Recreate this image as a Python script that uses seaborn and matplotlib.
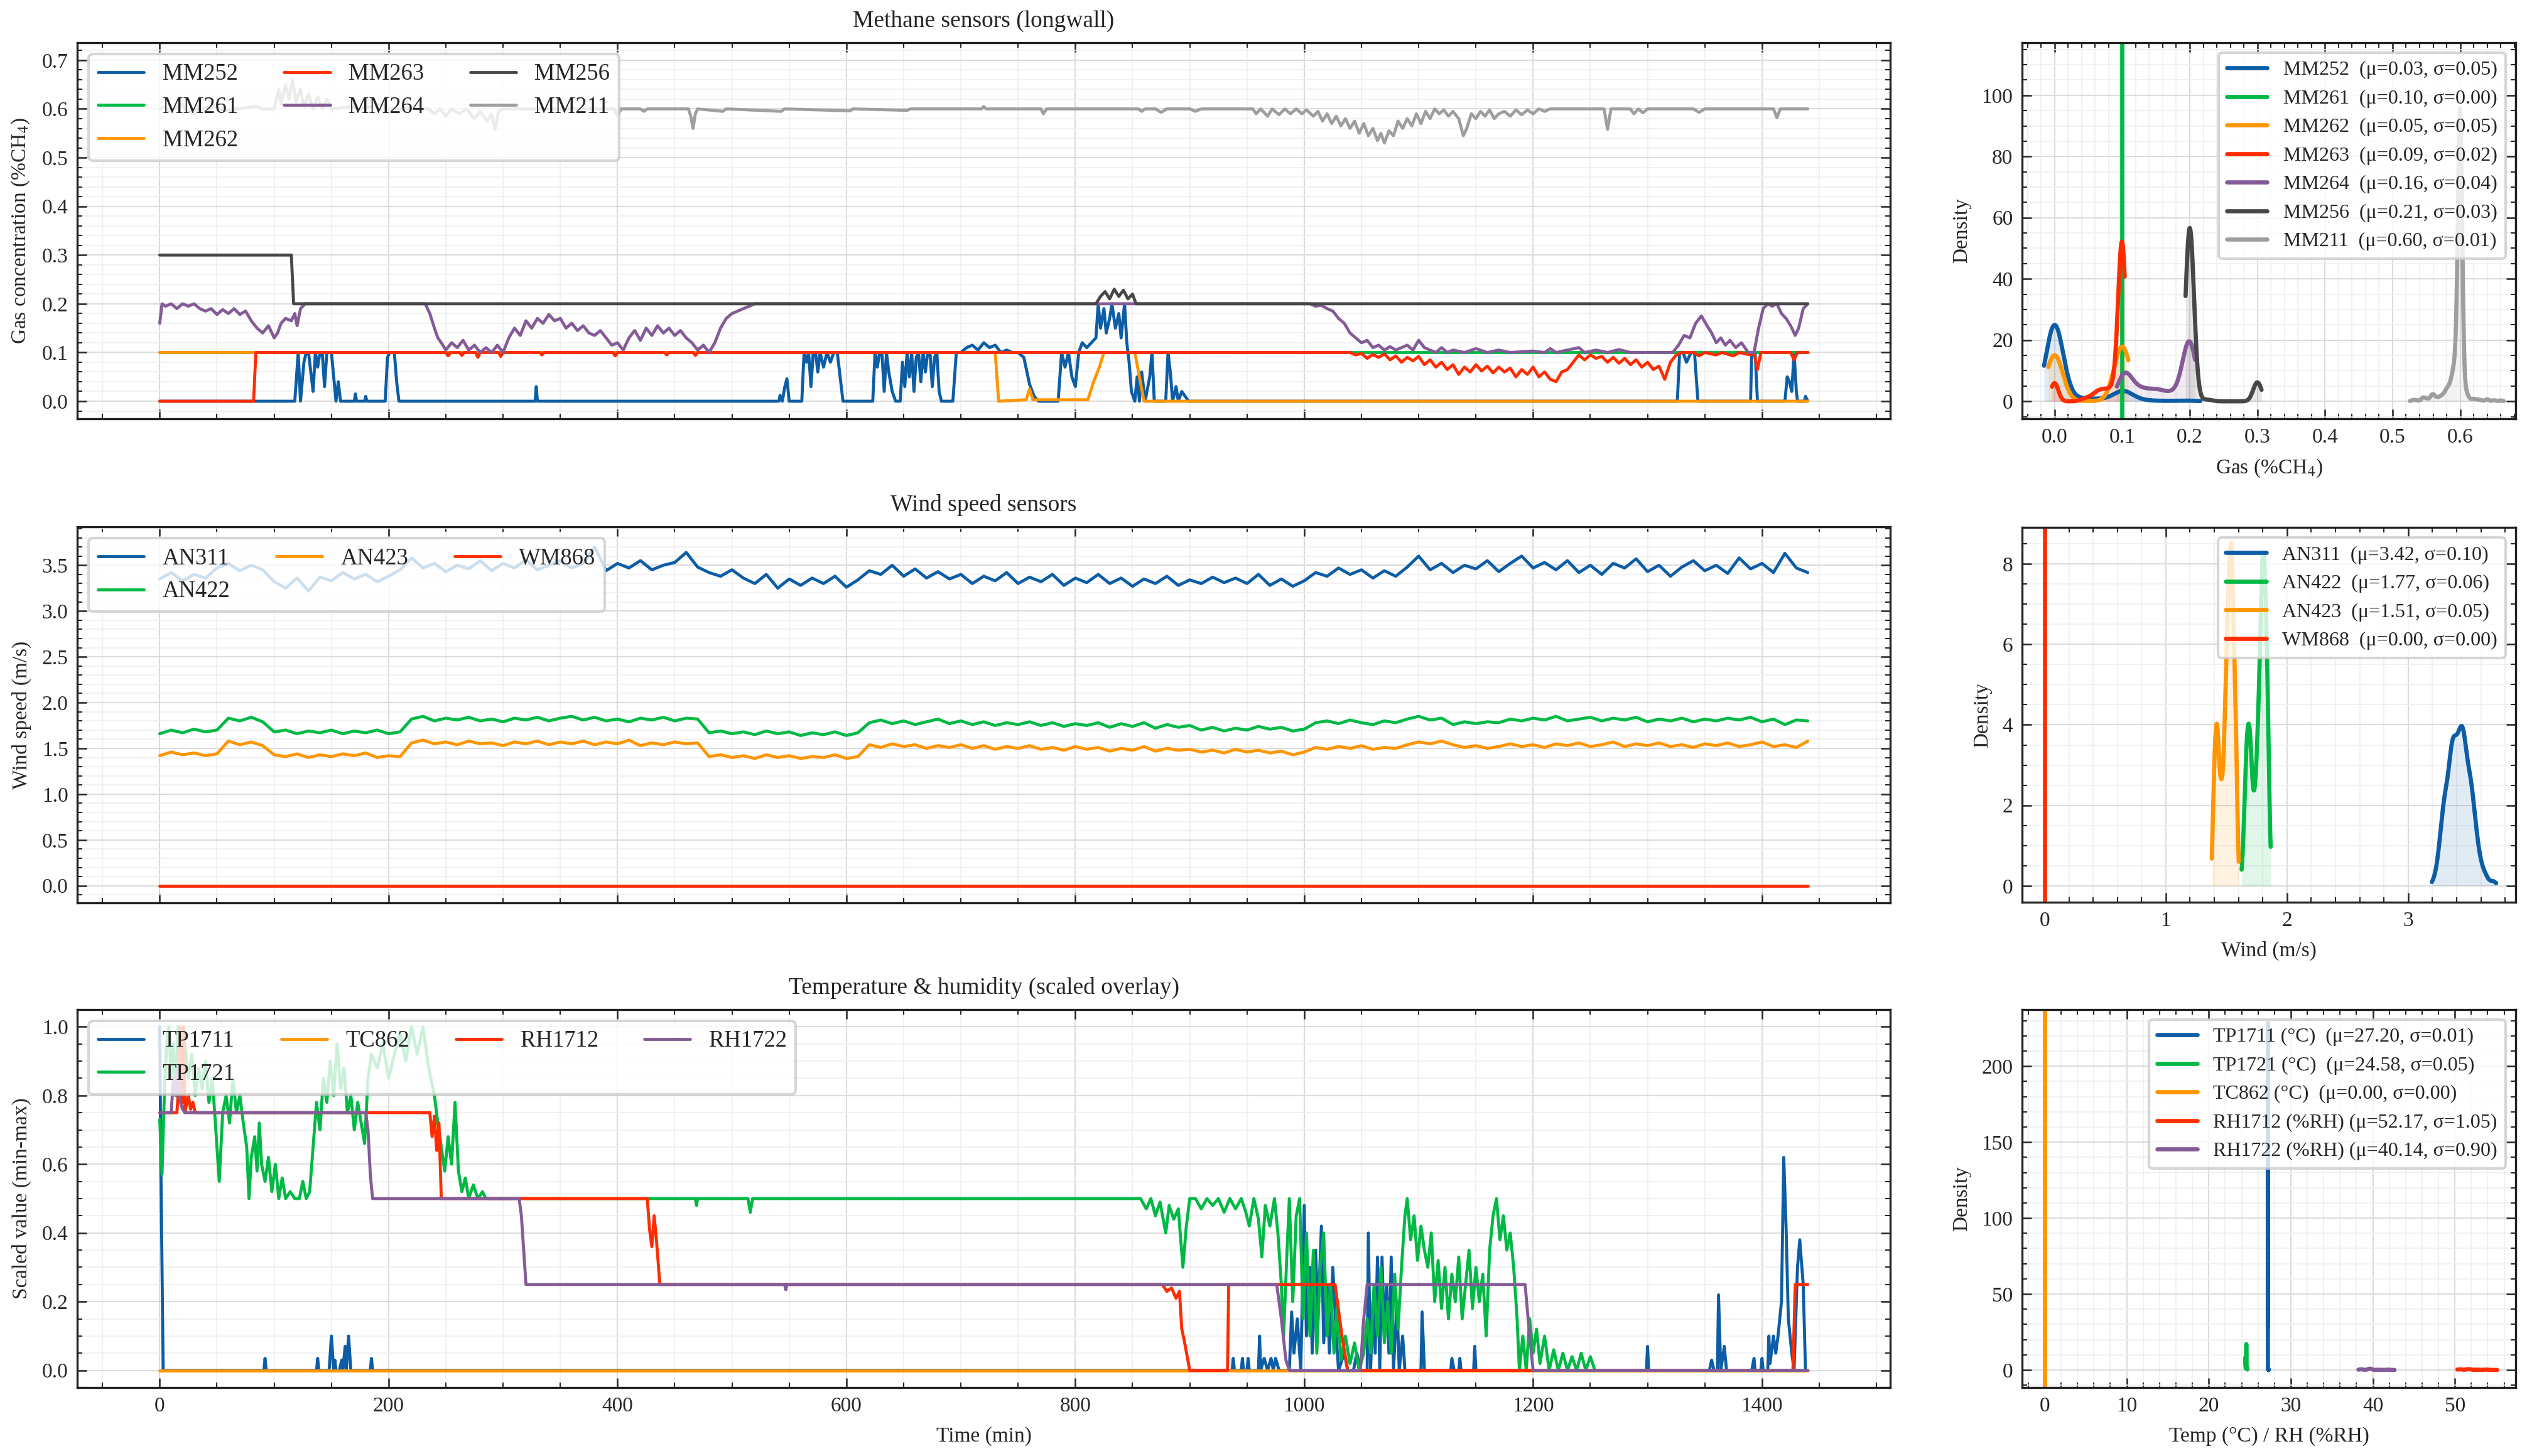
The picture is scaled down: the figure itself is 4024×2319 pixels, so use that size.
import numpy as np
import matplotlib.pyplot as plt
from matplotlib.ticker import MultipleLocator, FormatStrFormatter
import seaborn as sns

# ---------------- methane sensors (%CH4), (minute, value) ----------------
mm252 = [(0, 0.0), (118, 0.0), (121, 0.1), (123, 0.0), (126, 0.08), (128, 0.1), (130, 0.1), (132, 0.06),
         (134, 0.02), (136, 0.1), (138, 0.07), (140, 0.1), (142, 0.1), (144, 0.03), (146, 0.1), (148, 0.1),
         (150, 0.1), (152, 0.05), (154, 0.0), (156, 0.04), (158, 0.0), (170, 0.0), (171, 0.015), (172, 0.0),
         (179, 0.0), (180, 0.01), (181, 0.0), (197, 0.0), (199, 0.09), (201, 0.1), (205, 0.1), (207, 0.04),
         (209, 0.0), (328, 0.0), (329, 0.03), (330, 0.0), (541, 0.0), (542, 0.012), (544, 0.0), (546, 0.028),
         (548, 0.046), (550, 0.0), (561, 0.0), (563, 0.1), (565, 0.08), (567, 0.1), (569, 0.03), (571, 0.1),
         (573, 0.1), (575, 0.06), (577, 0.1), (580, 0.07), (583, 0.1), (586, 0.08), (589, 0.1), (592, 0.1),
         (595, 0.04), (597, 0.0), (623, 0.0), (625, 0.1), (627, 0.07), (629, 0.1), (631, 0.1), (633, 0.02),
         (635, 0.1), (637, 0.06), (640, 0.02), (643, 0.0), (647, 0.0), (649, 0.08), (651, 0.03), (653, 0.1),
         (655, 0.05), (657, 0.1), (659, 0.02), (661, 0.09), (663, 0.1), (665, 0.04), (667, 0.1), (669, 0.06),
         (671, 0.1), (673, 0.1), (675, 0.03), (677, 0.09), (679, 0.1), (681, 0.02), (683, 0.0), (693, 0.0),
         (696, 0.1), (700, 0.1), (705, 0.11), (710, 0.115), (715, 0.105), (720, 0.12), (725, 0.11),
         (730, 0.115), (735, 0.1), (740, 0.105), (745, 0.1), (750, 0.1), (755, 0.09), (760, 0.035),
         (764, 0.01), (768, 0.0), (785, 0.0), (788, 0.1), (791, 0.07), (794, 0.1), (797, 0.05), (800, 0.03),
         (803, 0.1), (806, 0.12), (810, 0.11), (814, 0.12), (818, 0.13), (820, 0.2), (822, 0.15), (825, 0.19),
         (827, 0.14), (830, 0.17), (832, 0.2), (835, 0.15), (838, 0.18), (840, 0.13), (843, 0.2), (845, 0.12),
         (847, 0.08), (849, 0.02), (852, 0.0), (854, 0.05), (856, 0.0), (858, 0.06), (861, 0.0), (865, 0.05),
         (867, 0.1), (869, 0.0), (879, 0.0), (881, 0.1), (883, 0.06), (885, 0.0), (888, 0.03), (890, 0.0),
         (893, 0.02), (896, 0.01), (899, 0.0), (1326, 0.0), (1328, 0.1), (1331, 0.1), (1334, 0.08),
         (1338, 0.1), (1341, 0.1), (1344, 0.0), (1390, 0.0), (1391, 0.1), (1394, 0.1), (1396, 0.0),
         (1420, 0.0), (1422, 0.05), (1424, 0.04), (1426, 0.02), (1428, 0.1), (1430, 0.02), (1431, 0.0),
         (1437, 0.0), (1438, 0.01), (1440, 0.0)]
mm261 = [(0, 0.1), (1440, 0.1)]
mm262 = [(0, 0.1), (730, 0.1), (733, 0.0), (757, 0.003), (760, 0.025), (763, 0.003), (811, 0.003),
         (816, 0.04), (821, 0.07), (825, 0.1), (852, 0.1), (856, 0.05), (860, 0.0), (1440, 0.0)]
mm263 = [(0, 0.0), (82, 0.0), (84, 0.1), (250, 0.1), (252, 0.093), (254, 0.1), (262, 0.1), (264, 0.094),
         (266, 0.1), (276, 0.1), (278, 0.09), (280, 0.1), (296, 0.1), (298, 0.092), (300, 0.1), (332, 0.1),
         (334, 0.095), (336, 0.1), (396, 0.1), (398, 0.093), (400, 0.1), (441, 0.1), (443, 0.095), (445, 0.1),
         (466, 0.1), (468, 0.094), (470, 0.1), (1040, 0.1), (1045, 0.095), (1050, 0.098), (1055, 0.088),
         (1060, 0.096), (1065, 0.09), (1070, 0.097), (1075, 0.085), (1080, 0.093), (1085, 0.08), (1090, 0.09),
         (1095, 0.083), (1100, 0.092), (1105, 0.075), (1110, 0.085), (1115, 0.07), (1120, 0.08), (1125, 0.065),
         (1130, 0.075), (1135, 0.055), (1140, 0.07), (1145, 0.06), (1150, 0.075), (1155, 0.062), (1160, 0.072),
         (1165, 0.058), (1170, 0.07), (1175, 0.06), (1180, 0.068), (1185, 0.05), (1190, 0.065), (1195, 0.055),
         (1200, 0.07), (1205, 0.05), (1210, 0.06), (1215, 0.045), (1220, 0.04), (1225, 0.06), (1230, 0.065),
         (1235, 0.08), (1240, 0.095), (1245, 0.085), (1250, 0.095), (1255, 0.088), (1260, 0.092), (1265, 0.08),
         (1270, 0.09), (1275, 0.078), (1280, 0.088), (1285, 0.075), (1290, 0.085), (1295, 0.07), (1300, 0.08),
         (1305, 0.065), (1310, 0.072), (1315, 0.045), (1320, 0.08), (1325, 0.095), (1330, 0.1), (1340, 0.1),
         (1345, 0.093), (1350, 0.1), (1360, 0.095), (1365, 0.1), (1375, 0.093), (1380, 0.1), (1390, 0.095),
         (1393, 0.1), (1396, 0.065), (1399, 0.1), (1425, 0.1), (1428, 0.085), (1431, 0.1), (1440, 0.1)]
mm264 = [(0, 0.16), (2, 0.2), (5, 0.195), (10, 0.2), (15, 0.19), (20, 0.2), (25, 0.195), (30, 0.2),
         (35, 0.19), (40, 0.185), (45, 0.19), (50, 0.178), (55, 0.188), (60, 0.18), (65, 0.19), (70, 0.178),
         (75, 0.185), (80, 0.165), (85, 0.15), (90, 0.14), (95, 0.155), (100, 0.13), (103, 0.14), (106, 0.16),
         (110, 0.17), (115, 0.165), (118, 0.18), (120, 0.155), (123, 0.19), (127, 0.2), (232, 0.2),
         (236, 0.18), (240, 0.15), (243, 0.13), (246, 0.12), (250, 0.105), (255, 0.12), (260, 0.11),
         (265, 0.125), (270, 0.105), (275, 0.115), (280, 0.1), (285, 0.11), (290, 0.1), (295, 0.115), (300, 0.1),
         (305, 0.13), (310, 0.15), (315, 0.135), (320, 0.165), (325, 0.15), (330, 0.17), (335, 0.16),
         (340, 0.178), (345, 0.165), (350, 0.17), (355, 0.15), (360, 0.16), (365, 0.145), (370, 0.155),
         (375, 0.14), (380, 0.135), (385, 0.145), (390, 0.13), (395, 0.115), (400, 0.12), (405, 0.105),
         (410, 0.13), (415, 0.145), (420, 0.125), (425, 0.15), (430, 0.135), (435, 0.155), (440, 0.14),
         (445, 0.15), (450, 0.135), (455, 0.145), (460, 0.13), (465, 0.12), (470, 0.105), (475, 0.115),
         (480, 0.1), (485, 0.12), (490, 0.15), (495, 0.17), (500, 0.18), (505, 0.185), (510, 0.19),
         (515, 0.195), (520, 0.2), (1005, 0.2), (1010, 0.195), (1015, 0.197), (1020, 0.19), (1025, 0.185),
         (1030, 0.17), (1035, 0.16), (1040, 0.14), (1045, 0.13), (1050, 0.12), (1055, 0.125), (1060, 0.11),
         (1065, 0.115), (1070, 0.105), (1075, 0.112), (1080, 0.105), (1085, 0.11), (1090, 0.115),
         (1095, 0.105), (1100, 0.125), (1105, 0.11), (1110, 0.105), (1115, 0.1), (1120, 0.11), (1125, 0.1),
         (1130, 0.105), (1140, 0.1), (1150, 0.108), (1160, 0.1), (1170, 0.105), (1180, 0.1), (1200, 0.103),
         (1210, 0.1), (1215, 0.108), (1220, 0.1), (1230, 0.105), (1240, 0.11), (1245, 0.1), (1255, 0.105),
         (1265, 0.1), (1275, 0.106), (1285, 0.1), (1322, 0.1), (1327, 0.115), (1332, 0.135), (1337, 0.13),
         (1342, 0.16), (1347, 0.175), (1352, 0.155), (1356, 0.14), (1360, 0.12), (1364, 0.13), (1368, 0.115),
         (1372, 0.125), (1377, 0.11), (1382, 0.12), (1388, 0.1), (1393, 0.1), (1397, 0.15), (1401, 0.19),
         (1405, 0.2), (1409, 0.195), (1413, 0.2), (1417, 0.18), (1421, 0.17), (1425, 0.155), (1429, 0.135),
         (1432, 0.15), (1436, 0.19), (1440, 0.2)]
mm256 = [(0, 0.3), (115, 0.3), (117, 0.2), (818, 0.2), (822, 0.215), (826, 0.225), (830, 0.21),
         (834, 0.23), (838, 0.215), (842, 0.228), (846, 0.21), (850, 0.22), (853, 0.2), (1440, 0.2)]
mm211 = [(0, 0.6), (5, 0.605), (8, 0.595), (12, 0.6), (20, 0.61), (22, 0.6), (30, 0.59), (33, 0.6),
         (48, 0.605), (52, 0.6), (63, 0.595), (66, 0.6), (85, 0.605), (90, 0.6), (100, 0.6), (104, 0.64),
         (106, 0.61), (110, 0.65), (113, 0.62), (116, 0.66), (119, 0.615), (123, 0.64), (126, 0.605),
         (130, 0.63), (134, 0.6), (138, 0.625), (142, 0.6), (146, 0.62), (150, 0.6), (170, 0.605), (175, 0.6),
         (195, 0.61), (198, 0.6), (235, 0.6), (240, 0.59), (245, 0.6), (250, 0.585), (255, 0.6), (262, 0.59),
         (268, 0.6), (275, 0.58), (280, 0.595), (286, 0.575), (290, 0.59), (293, 0.558), (296, 0.595),
         (300, 0.6), (397, 0.6), (400, 0.585), (403, 0.6), (420, 0.6), (423, 0.595), (426, 0.6), (462, 0.6),
         (464, 0.585), (466, 0.56), (468, 0.59), (470, 0.6), (492, 0.595), (495, 0.6), (543, 0.595),
         (546, 0.6), (603, 0.596), (606, 0.6), (653, 0.597), (656, 0.6), (718, 0.6), (720, 0.605), (722, 0.6),
         (770, 0.6), (772, 0.59), (775, 0.6), (855, 0.6), (858, 0.595), (861, 0.6), (870, 0.6), (875, 0.593),
         (880, 0.6), (900, 0.6), (905, 0.595), (910, 0.6), (955, 0.6), (958, 0.59), (962, 0.6), (968, 0.585),
         (972, 0.6), (978, 0.588), (983, 0.6), (988, 0.59), (993, 0.6), (998, 0.59), (1002, 0.598),
         (1008, 0.585), (1012, 0.595), (1016, 0.575), (1020, 0.59), (1024, 0.57), (1028, 0.585),
         (1032, 0.565), (1036, 0.58), (1040, 0.56), (1044, 0.575), (1048, 0.55), (1052, 0.57), (1056, 0.545),
         (1060, 0.56), (1064, 0.535), (1067, 0.55), (1070, 0.53), (1074, 0.555), (1078, 0.545),
         (1082, 0.575), (1086, 0.56), (1090, 0.58), (1094, 0.565), (1098, 0.59), (1102, 0.57), (1106, 0.595),
         (1110, 0.58), (1114, 0.6), (1118, 0.59), (1122, 0.598), (1126, 0.585), (1130, 0.595), (1135, 0.58),
         (1139, 0.545), (1142, 0.56), (1146, 0.59), (1150, 0.58), (1154, 0.595), (1158, 0.585),
         (1162, 0.598), (1166, 0.58), (1170, 0.59), (1175, 0.595), (1180, 0.585), (1185, 0.598),
         (1190, 0.588), (1195, 0.598), (1200, 0.59), (1205, 0.6), (1210, 0.595), (1215, 0.6), (1262, 0.6),
         (1265, 0.558), (1268, 0.6), (1285, 0.6), (1288, 0.59), (1292, 0.6), (1296, 0.592), (1300, 0.6),
         (1340, 0.6), (1345, 0.593), (1350, 0.6), (1410, 0.6), (1413, 0.582), (1416, 0.6), (1440, 0.6)]

ch4_names = ["MM252", "MM261", "MM262", "MM263", "MM264", "MM256", "MM211"]
ch4_mu = [0.03, 0.10, 0.05, 0.09, 0.16, 0.21, 0.60]
ch4_sd = [0.05, 0.00, 0.05, 0.02, 0.04, 0.03, 0.01]
ch4_bw = [1.3, 1.0, 0.9, 0.8, 1.0, 0.8, 1.0]      # kde smoothing per sensor

# ---------------- wind speed (m/s), one reading every 10 min ----------------
an311 = [3.35, 3.42, 3.33, 3.40, 3.36, 3.47, 3.52, 3.44, 3.50, 3.45,
         3.32, 3.25, 3.36, 3.22, 3.37, 3.33, 3.42, 3.35, 3.40, 3.32,
         3.38, 3.45, 3.58, 3.47, 3.52, 3.43, 3.50, 3.46, 3.55, 3.44,
         3.52, 3.47, 3.56, 3.45, 3.50, 3.55, 3.47, 3.52, 3.70, 3.44,
         3.52, 3.47, 3.55, 3.45, 3.50, 3.53, 3.64, 3.48, 3.42, 3.38,
         3.45, 3.36, 3.30, 3.40, 3.25, 3.35, 3.28, 3.36, 3.30, 3.38,
         3.26, 3.34, 3.44, 3.40, 3.50, 3.38, 3.46, 3.36, 3.43, 3.35,
         3.40, 3.30, 3.38, 3.33, 3.42, 3.30, 3.37, 3.32, 3.40, 3.28,
         3.36, 3.31, 3.40, 3.30, 3.36, 3.27, 3.35, 3.30, 3.38, 3.28,
         3.34, 3.30, 3.37, 3.31, 3.36, 3.30, 3.40, 3.28, 3.35, 3.27,
         3.33, 3.42, 3.38, 3.47, 3.40, 3.45, 3.36, 3.44, 3.38, 3.48,
         3.60, 3.45, 3.52, 3.42, 3.50, 3.46, 3.55, 3.43, 3.52, 3.60,
         3.47, 3.53, 3.45, 3.55, 3.42, 3.50, 3.40, 3.52, 3.47, 3.57,
         3.43, 3.50, 3.38, 3.48, 3.55, 3.44, 3.50, 3.41, 3.58, 3.46,
         3.52, 3.42, 3.63, 3.47, 3.42]
an422 = [1.66, 1.70, 1.67, 1.71, 1.68, 1.70, 1.83, 1.80, 1.84, 1.79,
         1.68, 1.70, 1.66, 1.69, 1.67, 1.70, 1.66, 1.69, 1.67, 1.70,
         1.66, 1.68, 1.82, 1.85, 1.80, 1.83, 1.81, 1.84, 1.80, 1.82,
         1.79, 1.83, 1.81, 1.84, 1.80, 1.83, 1.85, 1.81, 1.84, 1.80,
         1.82, 1.79, 1.83, 1.81, 1.84, 1.80, 1.83, 1.82, 1.67, 1.69,
         1.66, 1.68, 1.65, 1.69, 1.66, 1.68, 1.64, 1.67, 1.65, 1.68,
         1.64, 1.67, 1.78, 1.81, 1.77, 1.80, 1.76, 1.79, 1.82, 1.77,
         1.80, 1.76, 1.79, 1.75, 1.78, 1.76, 1.79, 1.75, 1.78, 1.74,
         1.77, 1.75, 1.78, 1.73, 1.77, 1.74, 1.78, 1.72, 1.76, 1.73,
         1.75, 1.70, 1.73, 1.69, 1.72, 1.70, 1.74, 1.71, 1.73, 1.69,
         1.71, 1.78, 1.80, 1.77, 1.81, 1.78, 1.76, 1.80, 1.78, 1.82,
         1.85, 1.81, 1.83, 1.76, 1.79, 1.77, 1.79, 1.78, 1.82, 1.80,
         1.83, 1.81, 1.85, 1.80, 1.82, 1.84, 1.80, 1.83, 1.81, 1.84,
         1.79, 1.82, 1.80, 1.83, 1.79, 1.82, 1.80, 1.83, 1.81, 1.84,
         1.79, 1.82, 1.76, 1.81, 1.80]
an423 = [1.42, 1.46, 1.43, 1.45, 1.42, 1.44, 1.58, 1.54, 1.57, 1.53,
         1.43, 1.41, 1.44, 1.40, 1.43, 1.41, 1.44, 1.42, 1.45, 1.40,
         1.42, 1.41, 1.56, 1.59, 1.55, 1.57, 1.54, 1.58, 1.55, 1.56,
         1.53, 1.57, 1.55, 1.58, 1.54, 1.57, 1.55, 1.58, 1.54, 1.57,
         1.55, 1.59, 1.53, 1.56, 1.54, 1.57, 1.55, 1.56, 1.41, 1.43,
         1.40, 1.42, 1.39, 1.43, 1.40, 1.42, 1.39, 1.41, 1.40, 1.43,
         1.39, 1.41, 1.54, 1.51, 1.55, 1.52, 1.54, 1.50, 1.53, 1.51,
         1.54, 1.50, 1.53, 1.49, 1.52, 1.50, 1.53, 1.49, 1.51, 1.48,
         1.52, 1.49, 1.51, 1.47, 1.50, 1.48, 1.52, 1.47, 1.50, 1.48,
         1.49, 1.46, 1.48, 1.45, 1.49, 1.46, 1.48, 1.45, 1.47, 1.43,
         1.46, 1.51, 1.49, 1.52, 1.50, 1.53, 1.49, 1.51, 1.50, 1.54,
         1.57, 1.55, 1.58, 1.54, 1.51, 1.53, 1.50, 1.52, 1.55, 1.52,
         1.54, 1.51, 1.55, 1.53, 1.56, 1.52, 1.54, 1.57, 1.52, 1.55,
         1.53, 1.56, 1.52, 1.54, 1.51, 1.55, 1.53, 1.56, 1.52, 1.54,
         1.57, 1.52, 1.54, 1.51, 1.58]
wm868 = [0.0, 0.0]

wind_names = ["AN311", "AN422", "AN423", "WM868"]
wind_mu = [3.42, 1.77, 1.51, 0.00]
wind_sd = [0.10, 0.06, 0.05, 0.00]
wind_bw = [1.2, 1.05, 0.92, 1.0]

# ---------------- temperature & humidity, min-max scaled, (minute, value) ----------------
tp1711 = [(0, 1.0), (1, 0.6), (3, 0.0), (91, 0.0), (92, 0.035), (93, 0.0), (137, 0.0), (138, 0.035),
          (139, 0.0), (148, 0.0), (150, 0.1), (152, 0.0), (153, 0.03), (154, 0.0), (157, 0.0), (159, 0.03),
          (160, 0.0), (162, 0.07), (163, 0.0), (165, 0.1), (167, 0.0), (184, 0.0), (185, 0.035), (186, 0.0),
          (937, 0.0), (938, 0.035), (939, 0.0), (945, 0.0), (946, 0.035), (947, 0.0), (950, 0.0),
          (951, 0.035), (952, 0.0), (960, 0.0), (961, 0.1), (962, 0.0), (965, 0.035), (968, 0.0),
          (971, 0.035), (973, 0.0), (975, 0.035), (978, 0.0), (987, 0.0), (989, 0.17), (991, 0.05),
          (994, 0.15), (997, 0.0), (1000, 0.48), (1002, 0.1), (1005, 0.3), (1007, 0.05), (1010, 0.35),
          (1012, 0.15), (1015, 0.42), (1017, 0.08), (1020, 0.25), (1022, 0.05), (1025, 0.3), (1028, 0.1),
          (1030, 0.0), (1035, 0.05), (1038, 0.0), (1043, 0.0), (1046, 0.05), (1049, 0.0), (1055, 0.0),
          (1056, 0.4), (1058, 0.0), (1060, 0.2), (1062, 0.05), (1064, 0.33), (1066, 0.0), (1068, 0.33),
          (1070, 0.1), (1072, 0.25), (1074, 0.05), (1076, 0.33), (1078, 0.0), (1081, 0.2), (1083, 0.0),
          (1086, 0.1), (1088, 0.0), (1102, 0.0), (1103, 0.17), (1105, 0.0), (1128, 0.0), (1129, 0.035),
          (1131, 0.0), (1135, 0.0), (1136, 0.035), (1137, 0.0), (1148, 0.0), (1149, 0.07), (1150, 0.0),
          (1299, 0.0), (1300, 0.07), (1301, 0.0), (1354, 0.0), (1356, 0.03), (1358, 0.0), (1361, 0.0),
          (1362, 0.22), (1364, 0.0), (1367, 0.07), (1369, 0.0), (1391, 0.0), (1393, 0.035), (1394, 0.0),
          (1399, 0.0), (1400, 0.035), (1401, 0.0), (1405, 0.0), (1406, 0.1), (1407, 0.02), (1410, 0.1),
          (1412, 0.05), (1414, 0.1), (1417, 0.2), (1419, 0.62), (1421, 0.42), (1423, 0.15), (1426, 0.05),
          (1428, 0.0), (1431, 0.3), (1433, 0.38), (1436, 0.25), (1438, 0.0), (1440, 0.0)]
tp1721 = [(0, 0.73), (2, 0.57), (4, 0.8), (6, 0.95), (8, 1.0), (10, 0.85), (12, 0.95), (14, 0.8), (16, 1.0),
          (18, 0.9), (20, 0.82), (22, 0.95), (25, 0.85), (28, 0.92), (31, 0.8), (34, 0.88), (37, 0.82),
          (40, 0.9), (43, 0.78), (46, 0.85), (49, 0.7), (52, 0.55), (55, 0.75), (58, 0.8), (61, 0.72),
          (64, 0.85), (67, 0.75), (70, 0.8), (73, 0.72), (76, 0.65), (78, 0.5), (80, 0.62), (83, 0.68),
          (85, 0.58), (87, 0.72), (89, 0.6), (92, 0.55), (95, 0.62), (98, 0.52), (101, 0.6), (104, 0.5),
          (107, 0.56), (110, 0.5), (114, 0.52), (118, 0.5), (122, 0.5), (125, 0.55), (128, 0.5), (131, 0.52),
          (134, 0.65), (137, 0.78), (140, 0.7), (143, 0.85), (146, 0.78), (149, 0.9), (152, 0.8), (155, 0.95),
          (158, 0.82), (161, 0.88), (164, 0.75), (167, 0.8), (170, 0.7), (173, 0.78), (176, 0.72), (179, 0.66),
          (182, 0.85), (185, 0.92), (190, 0.88), (195, 0.95), (200, 0.85), (205, 0.92), (210, 0.98), (215, 0.9),
          (220, 1.0), (225, 0.92), (230, 1.0), (235, 0.88), (240, 0.8), (243, 0.72), (246, 0.65), (249, 0.58),
          (252, 0.68), (255, 0.6), (258, 0.78), (261, 0.58), (264, 0.52), (267, 0.56), (270, 0.5), (274, 0.54),
          (278, 0.5), (282, 0.52), (285, 0.5), (468, 0.5), (469, 0.48), (470, 0.5), (514, 0.5), (516, 0.46),
          (518, 0.5), (857, 0.5), (862, 0.47), (866, 0.5), (870, 0.45), (874, 0.49), (879, 0.4), (882, 0.48),
          (886, 0.44), (890, 0.47), (894, 0.3), (897, 0.42), (900, 0.5), (905, 0.5), (910, 0.47), (915, 0.5),
          (920, 0.48), (925, 0.5), (930, 0.46), (935, 0.5), (940, 0.47), (945, 0.5), (949, 0.46), (952, 0.42),
          (956, 0.5), (960, 0.44), (963, 0.33), (966, 0.48), (970, 0.42), (974, 0.5), (977, 0.4), (980, 0.25),
          (982, 0.1), (985, 0.35), (987, 0.5), (990, 0.2), (993, 0.45), (996, 0.5), (999, 0.15), (1002, 0.4),
          (1005, 0.1), (1008, 0.35), (1011, 0.05), (1014, 0.3), (1017, 0.4), (1020, 0.1), (1023, 0.25),
          (1026, 0.05), (1029, 0.2), (1032, 0.03), (1036, 0.1), (1040, 0.02), (1044, 0.08), (1048, 0.0),
          (1052, 0.05), (1055, 0.15), (1058, 0.05), (1061, 0.25), (1064, 0.1), (1067, 0.3), (1070, 0.08),
          (1073, 0.2), (1076, 0.05), (1079, 0.28), (1082, 0.12), (1085, 0.3), (1088, 0.45), (1090, 0.5),
          (1093, 0.38), (1096, 0.45), (1099, 0.32), (1102, 0.42), (1105, 0.35), (1108, 0.3), (1111, 0.4),
          (1114, 0.2), (1117, 0.32), (1120, 0.18), (1123, 0.3), (1126, 0.15), (1129, 0.28), (1132, 0.2),
          (1135, 0.33), (1138, 0.15), (1141, 0.25), (1144, 0.35), (1147, 0.18), (1150, 0.3), (1153, 0.2),
          (1156, 0.28), (1159, 0.1), (1162, 0.35), (1165, 0.45), (1168, 0.5), (1171, 0.38), (1174, 0.45),
          (1177, 0.35), (1180, 0.4), (1183, 0.3), (1186, 0.15), (1188, 0.0), (1191, 0.1), (1194, 0.0),
          (1197, 0.15), (1200, 0.05), (1203, 0.12), (1206, 0.02), (1210, 0.1), (1214, 0.0), (1218, 0.06),
          (1222, 0.0), (1226, 0.05), (1230, 0.0), (1234, 0.04), (1238, 0.0), (1242, 0.05), (1246, 0.0),
          (1250, 0.04), (1254, 0.0), (1440, 0.0)]
tc862 = [(0, 0.0), (1440, 0.0)]
rh1712 = [(0, 0.75), (15, 0.75), (17, 0.85), (18, 1.0), (20, 0.78), (21, 1.0), (22, 0.75), (25, 0.8),
          (27, 0.76), (29, 0.78), (31, 0.75), (236, 0.75), (238, 0.68), (240, 0.74), (242, 0.64), (244, 0.72),
          (246, 0.5), (426, 0.5), (428, 0.41), (430, 0.36), (432, 0.45), (434, 0.38), (437, 0.25), (876, 0.25),
          (880, 0.23), (884, 0.24), (888, 0.21), (891, 0.23), (893, 0.12), (895, 0.09), (900, 0.0), (933, 0.0),
          (934, 0.25), (1027, 0.25), (1033, 0.1), (1038, 0.0), (1427, 0.0), (1429, 0.25), (1440, 0.25)]
rh1722 = [(0, 0.75), (10, 0.75), (12, 0.85), (14, 0.8), (16, 0.88), (18, 0.78), (20, 0.76), (22, 0.75),
          (180, 0.75), (182, 0.7), (184, 0.57), (186, 0.5), (314, 0.5), (316, 0.45), (320, 0.25), (546, 0.25),
          (547, 0.235), (548, 0.25), (976, 0.25), (980, 0.15), (984, 0.03), (987, 0.0), (1049, 0.0),
          (1052, 0.15), (1055, 0.25), (1193, 0.25), (1197, 0.1), (1200, 0.0), (1440, 0.0)]

temp_names = ["TP1711", "TP1721", "TC862", "RH1712", "RH1722"]
temp_units = ["(°C) ", "(°C) ", "(°C) ", "(%RH)", "(%RH)"]
temp_lo = [27.20, 24.45, 0.0, 50.60, 38.55]   # raw min of each sensor
temp_hi = [27.30, 24.70, 0.0, 54.85, 42.85]   # raw max of each sensor
temp_mu = [27.20, 24.58, 0.00, 52.17, 40.14]
temp_sd = [0.01, 0.05, 0.00, 1.05, 0.90]
temp_bw = [0.9, 0.7, 1.0, 1.0, 1.0]

colors = ["#0C5DA5", "#00B945", "#FF9500", "#FF2C00", "#845B97", "#474747", "#9e9e9e"]

# ---------------- style ----------------
sns.set_style("ticks")
plt.rcParams.update({
    "font.family": ["Liberation Serif", "DejaVu Serif"],
    "mathtext.fontset": "stix",
    "font.size": 8,
    "axes.titlesize": 9,
    "axes.labelsize": 8,
    "xtick.labelsize": 8,
    "ytick.labelsize": 8,
    "legend.fontsize": 8,
    "axes.linewidth": 0.8,
    "axes.edgecolor": "#222222",
    "xtick.direction": "in",
    "ytick.direction": "in",
    "xtick.top": True,
    "ytick.right": True,
    "xtick.minor.visible": True,
    "ytick.minor.visible": True,
    "xtick.major.size": 3.5,
    "ytick.major.size": 3.5,
    "xtick.minor.size": 2.0,
    "ytick.minor.size": 2.0,
    "xtick.major.width": 0.6,
    "ytick.major.width": 0.6,
    "xtick.minor.width": 0.5,
    "ytick.minor.width": 0.5,
    "legend.frameon": True,
    "legend.framealpha": 0.8,
    "legend.edgecolor": "0.8",
})

BW = 1440 ** -0.2   # Scott factor for one day of minute data


def as_tv(pairs):
    t, v = zip(*pairs)
    return np.array(t, float), np.array(v, float)


def style_grid(ax):
    ax.grid(True, which="major", color="#dcdcdc", lw=0.5)
    ax.grid(True, which="minor", color="#efefef", lw=0.4)
    ax.set_axisbelow(True)


def draw_ts(ax, series, names, ncol):
    for (t, v), name, c in zip(series, names, colors):
        sns.lineplot(x=t, y=v, ax=ax, color=c, lw=1.15, label=name, estimator=None, sort=False)
    ax.legend(loc="upper left", ncol=ncol, fontsize=8.8)
    style_grid(ax)


def draw_kde(ax, series, labels, adjust):
    for (t, v), lab, c, adj in zip(series, labels, colors, adjust):
        if np.ptp(v) == 0:
            ax.axvline(v[0], color=c, lw=1.6, label=lab)
            continue
        w = np.gradient(t)
        kw = dict(x=v, weights=w, bw_method=BW, bw_adjust=adj, cut=1, color=c, ax=ax)
        sns.kdeplot(fill=True, alpha=0.12, lw=0, **kw)
        sns.kdeplot(lw=1.6, label=lab, **kw)
    ax.legend(loc="upper right", fontsize=7.7)
    ax.set_ylabel("Density")
    style_grid(ax)


fig = plt.figure(figsize=(4024 / 300, 2319 / 300), dpi=300)
ax1 = fig.add_axes([0.0306, 0.7124, 0.7174, 0.2583])
ax2 = fig.add_axes([0.0306, 0.3799, 0.7174, 0.2583], sharex=ax1)
ax3 = fig.add_axes([0.0306, 0.0470, 0.7174, 0.2596], sharex=ax1)
kx1 = fig.add_axes([0.8002, 0.7124, 0.1953, 0.2583])
kx2 = fig.add_axes([0.8002, 0.3803, 0.1953, 0.2574])
kx3 = fig.add_axes([0.8002, 0.0470, 0.1953, 0.2596])

# methane
ch4 = [as_tv(s) for s in (mm252, mm261, mm262, mm263, mm264, mm256, mm211)]
draw_ts(ax1, ch4, ch4_names, 3)
ax1.set_title("Methane sensors (longwall)")
ax1.set_ylabel("Gas concentration (%CH$_4$)")
ax1.set_ylim(-0.036, 0.736)
ax1.yaxis.set_major_locator(MultipleLocator(0.1))
draw_kde(kx1, ch4, [f"{n}  (μ={m:.2f}, σ={s:.2f})" for n, m, s in zip(ch4_names, ch4_mu, ch4_sd)], ch4_bw)
kx1.set_xlabel("Gas (%CH$_4$)")
kx1.set_xlim(-0.048, 0.682)
kx1.set_ylim(-5.7, 117.2)
kx1.xaxis.set_major_locator(MultipleLocator(0.1))
kx1.yaxis.set_major_locator(MultipleLocator(20))

# wind
wind = []
for vals in (an311, an422, an423, wm868):
    v = np.array(vals, float)
    t = np.linspace(0, 1440, len(v))
    wind.append((t, v))
draw_ts(ax2, wind, wind_names, 3)
ax2.set_title("Wind speed sensors")
ax2.set_ylabel("Wind speed (m/s)")
ax2.set_ylim(-0.187, 3.92)
ax2.yaxis.set_major_locator(MultipleLocator(0.5))
ax2.yaxis.set_major_formatter(FormatStrFormatter("%.1f"))
draw_kde(kx2, wind, [f"{n}  (μ={m:.2f}, σ={s:.2f})" for n, m, s in zip(wind_names, wind_mu, wind_sd)],
         wind_bw)
kx2.set_xlabel("Wind (m/s)")
kx2.set_xlim(-0.186, 3.886)
kx2.set_ylim(-0.41, 8.905)
kx2.xaxis.set_major_locator(MultipleLocator(1))
kx2.yaxis.set_major_locator(MultipleLocator(2))

# temperature & humidity
temp = [as_tv(s) for s in (tp1711, tp1721, tc862, rh1712, rh1722)]
draw_ts(ax3, temp, temp_names, 4)
ax3.set_title("Temperature & humidity (scaled overlay)")
ax3.set_ylabel("Scaled value (min-max)")
ax3.set_xlabel("Time (min)")
ax3.set_ylim(-0.05, 1.05)
ax3.yaxis.set_major_locator(MultipleLocator(0.2))
ax3.set_xlim(-72, 1512)
ax3.xaxis.set_major_locator(MultipleLocator(200))
raw = [(t, lo + v * (hi - lo)) for (t, v), lo, hi in zip(temp, temp_lo, temp_hi)]
draw_kde(kx3, raw, [f"{n} {u} (μ={m:.2f}, σ={s:.2f})"
                    for n, u, m, s in zip(temp_names, temp_units, temp_mu, temp_sd)], temp_bw)
kx3.set_xlabel("Temp (°C) / RH (%RH)")
kx3.set_xlim(-2.75, 57.4)
kx3.set_ylim(-11.6, 237.3)
kx3.xaxis.set_major_locator(MultipleLocator(10))
kx3.yaxis.set_major_locator(MultipleLocator(50))

for ax in (ax1, ax2):
    ax.tick_params(labelbottom=False)
    ax.set_xlabel("")

fig.savefig("out.png", dpi=300)
